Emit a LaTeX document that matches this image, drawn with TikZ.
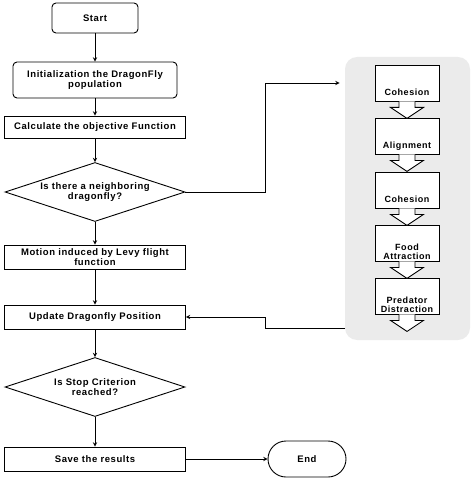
\documentclass[tikz,border=0pt]{standalone}
\usepackage{fontspec}
\setmainfont{Liberation Sans}[LetterSpace=6]
\usetikzlibrary{shapes.geometric, shapes.misc, arrows}
\usetikzlibrary{calc}
\usetikzlibrary{positioning}
\begin{document}
\begin{tikzpicture}[x=1pt, y=-1pt, line width=0.9pt,
        nodes={text centered, align=center, inner sep=1pt,
          font=\fontsize{9.5}{10}\selectfont\bfseries},
        box/.style={draw, rectangle, minimum width=181pt, minimum height=24pt},
        rbox/.style={box, rounded corners=4pt},
        dec/.style={draw, diamond, aspect=3, minimum width=180pt,
          minimum height=59pt, inner sep=0pt},
        term/.style={draw, rounded rectangle, minimum width=80pt, minimum height=36pt},
        panel/.style={fill=black!8, rounded corners=12pt,
          minimum width=125pt, minimum height=283pt},
        stage/.style={draw, fill=white, minimum width=64pt, minimum height=36pt},
        stagetext/.style={anchor=south, inner sep=3pt, text depth=2.5pt,
          font=\fontsize{9}{9.5}\selectfont\bfseries},
        link/.style={-stealth},
        blockarrow/.pic={\draw[fill=white] (-8,0) -- (-8,6) -- (-16.5,6)
          -- (0,17) -- (16.5,6) -- (8,6) -- (8,0);},
      ]
      \useasboundingbox (0,0) rectangle (474,481);
      % main flow
      \node[rbox, minimum width=86pt, minimum height=30pt] (a) at (95,18) {Start};
      \node[rbox, minimum width=164pt, minimum height=36pt] (b) at (95,80)
        {Initialization the DragonFly\\population};
      \node[box, minimum height=22pt] (c) at (95,127) {Calculate the objective Function};
      \node[dec] (d) at (95,192) {Is there a neighboring\\dragonfly?};
      \node[box] (e) at (95,257) {Motion induced by Levy flight\\function};
      \node[box] (f) at (95,317) {Update Dragonfly Position};
      \node[dec] (g) at (95,387) {Is Stop Criterion\\reached?};
      \node[box] (h) at (95,459) {Save the results};
      \node[term] (k) at (307,459) {End};

      % behaviour panel
      \node[panel] (p) at (407.5,198.5) {};
      \node[stage] (q1) at (407,83) {};
      \node[stage] (q2) at (407,136) {};
      \node[stage] (q3) at (407,190) {};
      \node[stage] (q4) at (407,243) {};
      \node[stage] (q5) at (407,296) {};
      \node[stagetext] (t1) at (q1.south) {Cohesion};
      \node[stagetext] (t2) at (q2.south) {Alignment};
      \node[stagetext] (t3) at (q3.south) {Cohesion};
      \node[stagetext, yshift=-4pt] (t4) at (q4.south) {Food\\Attraction};
      \node[stagetext, yshift=-4pt] (t5) at (q5.south) {Predator\\Distraction};
      \pic at (q1.south) {blockarrow};
      \pic at (q2.south) {blockarrow};
      \pic at (q3.south) {blockarrow};
      \pic at (q4.south) {blockarrow};
      \pic at (q5.south) {blockarrow};
      \coordinate (r) at (345,328);

      % connectors
      \draw[link] (a) -- (b);
      \draw[link] (b) -- (c);
      \draw[link] (c) -- (d);
      \draw[link] (d) -- (e);
      \draw[link] (e) -- (f);
      \draw[link] (f) -- (g);
      \draw[link] (g) -- (h);
      \draw[link] (h) -- (k);
      \draw[link] (d.east) -- ++(80,0) |- ([xshift=-5pt]p.west |- q1);
      \draw[link] (r) -- ++(-80,0) |- (f.east);
    \end{tikzpicture}
\end{document}
